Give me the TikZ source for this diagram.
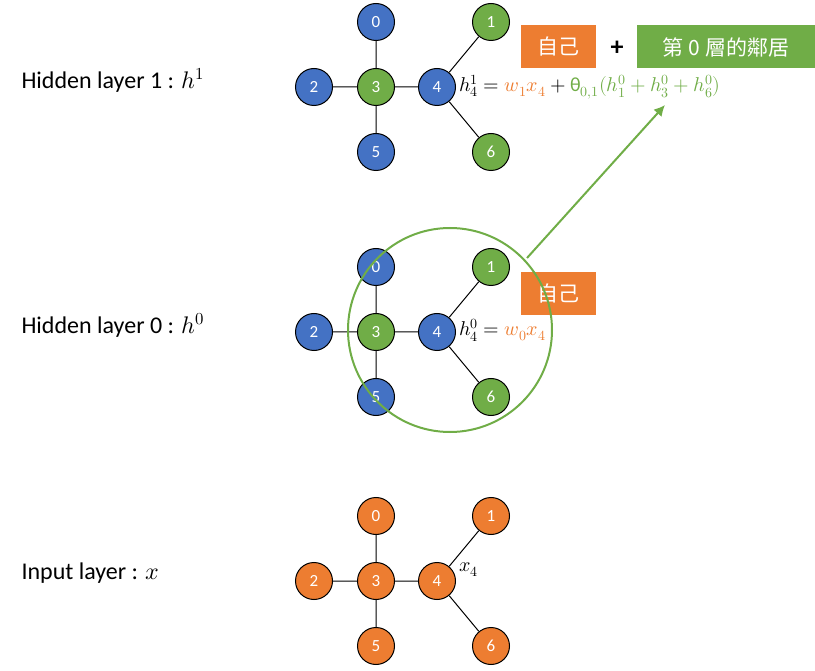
\documentclass[tikz,border=0pt]{standalone}
\usetikzlibrary{arrows.meta}
\usepackage{fontspec}
\usepackage{unicode-math}
\setmainfont{Carlito}
\newfontfamily\cjk{Noto Sans CJK TC}
\definecolor{cb}{HTML}{4472C4}
\definecolor{cg}{HTML}{70AD47}
\definecolor{co}{HTML}{ED7D31}
\begin{document}
\begin{tikzpicture}[x=1pt,y=-1pt,
 n/.style={circle,draw=black,line width=1pt,minimum size=37pt,inner sep=0pt,text=white,font=\fontsize{17}{17}\selectfont},
 B/.style={n,fill=cb},G/.style={n,fill=cg},O/.style={n,fill=co},
 lab/.style={anchor=west,font=\fontsize{24}{24}\selectfont},
 box/.style={text=white,font=\cjk\fontsize{21}{21}\selectfont,minimum height=43pt,inner sep=0pt},
 e/.style={line width=1pt}]
\useasboundingbox (0,0) rectangle (815,671);
\newcommand\graphlayer[8]{%
 \node[#2] (a#1) at (376,#8) {0};
 \node[#3] (b#1) at (491,#8) {1};
 \node[#4] (c#1) at (314,#8+65) {2};
 \node[#5] (d#1) at (376,#8+65) {3};
 \node[#6] (e#1) at (437,#8+65) {4};
 \node[#7] (f#1) at (376,#8+130) {5};
 \node[#3] (g#1) at (491,#8+130) {6};
 \draw[e] (a#1)--(d#1) (c#1)--(d#1) (d#1)--(e#1) (d#1)--(f#1) (e#1)--(b#1) (e#1)--(g#1);}
\graphlayer{t}{B}{G}{B}{G}{B}{B}{22}
\graphlayer{m}{B}{G}{B}{G}{B}{B}{267}
\graphlayer{i}{O}{O}{O}{O}{O}{O}{516}
\node[lab] (l1) at (18,80) {Hidden layer 1 : $h^1$};
\node[lab] (l0) at (18,325) {Hidden layer 0 : $h^0$};
\node[lab] (li) at (18,573) {Input layer : $x$};
\node[anchor=west,font=\fontsize{20}{20}\selectfont,inner sep=1pt] (f1) at (458,87) {$h_4^1 = {\color{co}w_1x_4} + {\color{cg}\mathup{θ}_{0,1}(h_1^0+h_3^0+h_6^0)}$};
\node[anchor=west,font=\fontsize{20}{20}\selectfont,inner sep=1pt] (f0) at (458,330) {$h_4^0 = {\color{co}w_0x_4}$};
\node[anchor=west,font=\fontsize{20}{20}\selectfont,inner sep=1pt] (fi) at (458,570) {$x_4$};
\node[box,fill=co,minimum width=75pt] (s1) at (558.5,47) {自己};
\node[font=\fontsize{26}{26}\selectfont\bfseries] (pl) at (617,48) {+};
\node[box,fill=cg,minimum width=178pt] (nb) at (726,47) {第 0 層的鄰居};
\node[box,fill=co,minimum width=75pt] (s0) at (558.5,294) {自己};
\node[circle,draw=cg,line width=2pt,minimum size=204pt,inner sep=0pt] (ring) at (450,330) {};
\coordinate (tip) at (665,105);
\draw[cg,line width=2pt,-{Latex[length=11pt,width=11pt]}] (527,258) -- (tip);
\end{tikzpicture}
\end{document}
